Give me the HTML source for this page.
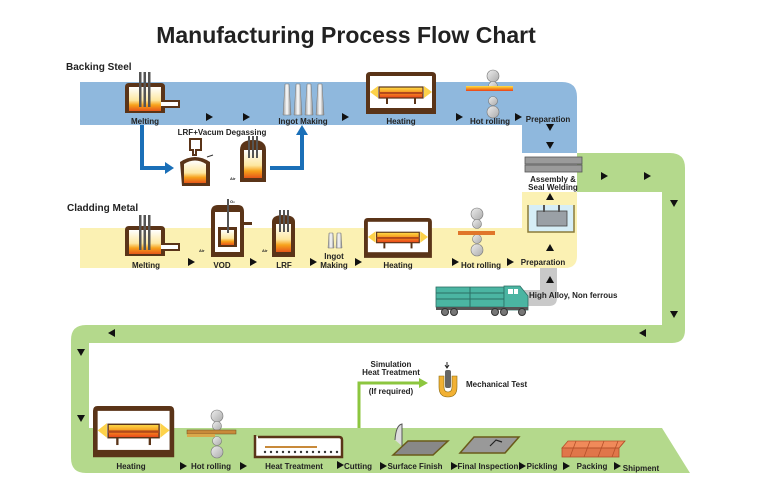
<!DOCTYPE html>
<html><head><meta charset="utf-8"><style>
html,body{margin:0;padding:0;background:#fff;}
svg{display:block;}
text{font-family:"Liberation Sans",sans-serif;font-weight:bold;fill:#222;}
.l{font-size:8px;}
</style></head><body>
<svg width="768" height="491" viewBox="0 0 768 491" xmlns="http://www.w3.org/2000/svg">
<defs>
<linearGradient id="melt" x1="0" y1="0" x2="0" y2="1"><stop offset="0" stop-color="#fff"/><stop offset="0.55" stop-color="#fde7a0"/><stop offset="0.75" stop-color="#f7a21b"/><stop offset="1" stop-color="#e5571a"/></linearGradient>
<linearGradient id="hot" x1="0" y1="0" x2="0" y2="1"><stop offset="0" stop-color="#ffe14a"/><stop offset="0.5" stop-color="#f7941d"/><stop offset="1" stop-color="#e8401c"/></linearGradient>
<linearGradient id="ing" x1="0" y1="0" x2="1" y2="0"><stop offset="0" stop-color="#999"/><stop offset="0.5" stop-color="#fff"/><stop offset="1" stop-color="#888"/></linearGradient>
<linearGradient id="roll" x1="0" y1="0" x2="1" y2="1"><stop offset="0" stop-color="#eee"/><stop offset="1" stop-color="#aaa"/></linearGradient>
<g id="mf">
 <path d="M0,4 Q0,0 4,0 H36 Q40,0 40,4 V17 H55 V25 H40 V30 H0 Z" fill="#5a3418"/>
 <path d="M4,4 H36 V28 H4 Z" fill="url(#melt)"/>
 <rect x="36" y="19" width="17" height="4" fill="#fff"/>
 <rect x="14" y="-11" width="2.5" height="35" fill="#555"/><rect x="18.5" y="-11" width="2.5" height="35" fill="#555"/><rect x="23" y="-11" width="2.5" height="35" fill="#555"/>
</g>
<g id="hf">
 <path d="M0,4 Q0,0 4,0 H66 Q70,0 70,4 V42 H0 Z" fill="#5a3418"/>
 <rect x="4" y="4" width="62" height="32" fill="#fff"/>
 <path d="M4,20 L12,14 V26 Z M66,20 L58,14 V26 Z" fill="#fdd24a"/>
 <rect x="13" y="15" width="44" height="11" fill="url(#hot)" stroke="#5a3418" stroke-width="1.2"/>
 <rect x="13" y="20" width="44" height="2" fill="#b34a1a"/>
 <rect x="20" y="26" width="2" height="6" fill="#5a3418"/><rect x="48" y="26" width="2" height="6" fill="#5a3418"/>
</g>
<g id="rl">
 <circle cx="0" cy="0" r="6" fill="url(#roll)" stroke="#777" stroke-width=".6"/>
 <circle cx="0" cy="10" r="4.5" fill="url(#roll)" stroke="#777" stroke-width=".6"/>
 <circle cx="0" cy="25" r="4.5" fill="url(#roll)" stroke="#777" stroke-width=".6"/>
 <circle cx="0" cy="36" r="6" fill="url(#roll)" stroke="#777" stroke-width=".6"/>
</g>
<path id="ar" d="M0,-4 L7,0 L0,4 Z" fill="#111"/>
<path id="ad" d="M-4,0 L4,0 L0,7 Z" fill="#111"/>
<path id="au" d="M-4,7 L4,7 L0,0 Z" fill="#111"/>
<path id="al" d="M7,-4 L0,0 L7,4 Z" fill="#111"/>
</defs>

<text x="346" y="43" text-anchor="middle" style="font-size:23px;font-family:'Liberation Sans',sans-serif">Manufacturing Process Flow Chart</text>

<!-- bands -->
<path d="M80,82 H562 Q577,82 577,97 V153 H522 V125 H80 Z" fill="#8fb8dd"/>
<path d="M522,153 H670 Q685,153 685,168 V330 Q685,343 672,343 H89 V428 H662 L690,473 H86 Q71,473 71,458 V340 Q71,325 86,325 H662 V192 H577 V153 Z" fill="#b4d98c"/>
<path d="M80,228 H522 V192 H577 V256 Q577,268 565,268 H80 Z" fill="#fbf1b3"/>
<path d="M540,268 H557 V298 Q557,306 549,306 H520 V290 H540 Z" fill="#c9c9c9"/>

<!-- labels rows -->
<text x="66" y="70" style="font-size:10px">Backing  Steel</text>
<text x="67" y="211" style="font-size:10px">Cladding  Metal</text>

<!-- backing row -->
<use href="#mf" x="125" y="83"/>
<text class="l" x="145" y="124" text-anchor="middle">Melting</text>
<use href="#ar" x="206" y="117"/><use href="#ar" x="243" y="117"/>
<g fill="url(#ing)" stroke="#777" stroke-width=".5">
<path d="M283,115 L285,84 H289 L291,115 Z"/><path d="M294,115 L296,84 H300 L302,115 Z"/><path d="M305,115 L307,84 H311 L313,115 Z"/><path d="M316,115 L318,84 H322 L324,115 Z"/></g>
<text class="l" x="303" y="124" text-anchor="middle">Ingot Making</text>
<use href="#ar" x="342" y="117"/>
<use href="#hf" x="366" y="72"/>
<text class="l" x="401" y="124" text-anchor="middle">Heating</text>
<use href="#ar" x="456" y="117"/>
<use href="#rl" x="493" y="76"/>
<rect x="466" y="86" width="47" height="5" fill="url(#hot)"/>
<text class="l" x="490" y="124" text-anchor="middle">Hot rolling</text>
<use href="#ar" x="515" y="117"/>
<text class="l" x="548" y="122" text-anchor="middle">Preparation</text>
<use href="#ad" x="550" y="124"/><use href="#ad" x="550" y="142"/>

<!-- blue branch -->
<path d="M142,125 V168 H166" fill="none" stroke="#1a6fb8" stroke-width="4"/>
<path d="M165,162 L174,168 L165,174 Z" fill="#1a6fb8"/>
<text class="l" x="222" y="135" text-anchor="middle">LRF+Vacum Degassing</text>
<g>
 <path d="M190,139 H201 V150 H196 V155 H193 V150 H190 Z" fill="none" stroke="#5a3418" stroke-width="2"/>
 <path d="M180,162 Q195,152 210,162 V186 H182 Z" fill="#5a3418"/>
 <path d="M184,164 Q195,157 206,164 V183 H184 Z" fill="url(#melt)"/>
 <path d="M207,157 L213,155" stroke="#333" stroke-width="1"/>
</g>
<g>
 <path d="M240,150 Q240,140 253,140 Q266,140 266,150 V182 H240 Z" fill="#5a3418"/>
 <rect x="244" y="150" width="18" height="28" fill="url(#melt)"/>
 <rect x="248" y="136" width="2" height="22" fill="#555"/><rect x="252" y="136" width="2" height="22" fill="#555"/><rect x="256" y="136" width="2" height="22" fill="#555"/>
 <text x="230" y="180" style="font-size:4px">Air</text>
</g>
<path d="M270,168 H302 V134" fill="none" stroke="#1a6fb8" stroke-width="4"/>
<path d="M296,135 L302,125 L308,135 Z" fill="#1a6fb8"/>

<!-- assembly -->
<rect x="525" y="157" width="57" height="7" fill="#9a9a9a" stroke="#555" stroke-width=".8"/>
<rect x="525" y="165" width="57" height="7" fill="#9a9a9a" stroke="#555" stroke-width=".8"/>
<text class="l" x="553" y="182" text-anchor="middle">Assembly &amp;</text>
<text class="l" x="553" y="190" text-anchor="middle">Seal Welding</text>
<use href="#au" x="550" y="193"/>
<path d="M528,205 V232 H574 V205" fill="#d6eef7" stroke="#8a7a3a" stroke-width="1.5"/>
<rect x="537" y="211" width="30" height="15" fill="#9aa0a6" stroke="#444" stroke-width=".8"/>
<rect x="543" y="205" width="2" height="7" fill="#555"/><rect x="558" y="205" width="2" height="7" fill="#555"/>
<use href="#au" x="550" y="244"/>
<text class="l" x="543" y="265" text-anchor="middle">Preparation</text>
<use href="#ar" x="601" y="176"/><use href="#ar" x="644" y="176"/>
<use href="#ad" x="674" y="200"/><use href="#ad" x="674" y="311"/>

<!-- cladding row -->
<use href="#mf" x="125" y="226"/>
<text class="l" x="146" y="268" text-anchor="middle">Melting</text>
<use href="#ar" x="188" y="262"/>
<g>
 <path d="M211,212 Q211,205 218,205 H238 Q244,205 244,212 V257 H211 Z" fill="#5a3418"/>
 <rect x="215" y="212" width="25" height="40" fill="#fff"/>
 <rect x="218" y="227" width="19" height="20" fill="#5a3418"/>
 <rect x="221" y="230" width="13" height="15" fill="url(#melt)"/>
 <rect x="227" y="199" width="2" height="34" fill="#555"/>
 <rect x="244" y="222" width="8" height="3" fill="#5a3418"/>
 <text x="230" y="203" style="font-size:4px">O₂</text>
 <text x="199" y="252" style="font-size:4px">Air</text>
</g>
<text class="l" x="222" y="268" text-anchor="middle">VOD</text>
<use href="#ar" x="250" y="262"/>
<g>
 <path d="M272,222 Q272,215 283,215 Q295,215 295,222 V257 H272 Z" fill="#5a3418"/>
 <rect x="276" y="224" width="15" height="28" fill="url(#melt)"/>
 <rect x="279" y="210" width="2" height="22" fill="#555"/><rect x="283" y="210" width="2" height="22" fill="#555"/><rect x="287" y="210" width="2" height="22" fill="#555"/>
 <text x="262" y="252" style="font-size:4px">Air</text>
</g>
<text class="l" x="284" y="268" text-anchor="middle">LRF</text>
<use href="#ar" x="310" y="262"/>
<g fill="url(#ing)" stroke="#777" stroke-width=".5"><path d="M328,248 L329,233 H333 L334,248 Z"/><path d="M336,248 L337,233 H341 L342,248 Z"/></g>
<text class="l" x="334" y="259" text-anchor="middle">Ingot</text>
<text class="l" x="334" y="268" text-anchor="middle">Making</text>
<use href="#ar" x="355" y="262"/>
<use href="#hf" x="364" y="218" transform="translate(364 218) scale(0.97 0.95) translate(-364 -218)"/>
<text class="l" x="398" y="268" text-anchor="middle">Heating</text>
<use href="#ar" x="452" y="262"/>
<use href="#rl" x="477" y="214"/>
<rect x="458" y="231" width="37" height="4" fill="#e0762a"/>
<text class="l" x="481" y="268" text-anchor="middle">Hot rolling</text>
<use href="#ar" x="507" y="262"/>

<!-- truck -->
<use href="#au" x="550" y="276"/>
<g>
 <rect x="436" y="287" width="68" height="20" fill="#4bb5a2" stroke="#2b6f64" stroke-width=".8"/>
 <line x1="436" y1="293" x2="504" y2="293" stroke="#2b6f64"/><line x1="436" y1="299" x2="504" y2="299" stroke="#2b6f64"/>
 <line x1="470" y1="287" x2="470" y2="307" stroke="#2b6f64"/>
 <path d="M504,286 H520 L528,296 V310 H504 Z" fill="#4bb5a2" stroke="#2b6f64" stroke-width=".8"/>
 <rect x="508" y="289" width="5" height="5" fill="#fff"/><rect x="514" y="289" width="4" height="5" fill="#fff"/>
 <rect x="436" y="307" width="92" height="3" fill="#555"/>
 <g fill="#777" stroke="#333" stroke-width="1"><circle cx="445" cy="312" r="3.5"/><circle cx="454" cy="312" r="3.5"/><circle cx="495" cy="312" r="3.5"/><circle cx="504" cy="312" r="3.5"/><circle cx="522" cy="312" r="3.5"/></g>
</g>
<text class="l" x="529" y="298">High Alloy, Non ferrous</text>

<!-- lower loop arrows -->
<use href="#al" x="108" y="333"/><use href="#al" x="639" y="333"/>
<use href="#ad" x="81" y="349"/><use href="#ad" x="81" y="415"/>

<!-- bottom row -->
<use href="#hf" x="93" y="406" transform="translate(93 406) scale(1.16 1.22) translate(-93 -406)"/>
<text class="l" x="131" y="469" text-anchor="middle">Heating</text>
<use href="#ar" x="180" y="466"/>
<use href="#rl" x="217" y="416"/>
<rect x="187" y="430" width="49" height="4" fill="#c88a3a" stroke="#6a4a1a" stroke-width=".5"/>
<rect x="187" y="434" width="28" height="3" fill="#d9a84a"/>
<text class="l" x="211" y="469" text-anchor="middle">Hot rolling</text>
<use href="#ar" x="240" y="466"/>
<path d="M255,435 V457 H342 V440 Q342,437 339,437 H258" fill="#fff" stroke="#5a3418" stroke-width="2.5"/>
<rect x="265" y="446" width="52" height="2" fill="#c88a3a"/>
<g fill="#333"><circle cx="265" cy="452" r="1.2"/><circle cx="271" cy="452" r="1.2"/><circle cx="277" cy="452" r="1.2"/><circle cx="283" cy="452" r="1.2"/><circle cx="289" cy="452" r="1.2"/><circle cx="295" cy="452" r="1.2"/><circle cx="301" cy="452" r="1.2"/><circle cx="307" cy="452" r="1.2"/><circle cx="313" cy="452" r="1.2"/><circle cx="319" cy="452" r="1.2"/><circle cx="325" cy="452" r="1.2"/><circle cx="331" cy="452" r="1.2"/><circle cx="337" cy="452" r="1.2"/></g>
<text class="l" x="294" y="469" text-anchor="middle">Heat Treatment</text>
<use href="#ar" x="337" y="465"/>
<text class="l" x="358" y="469" text-anchor="middle">Cutting</text>
<path d="M359,428 V383 H420" fill="none" stroke="#8cc63f" stroke-width="3"/>
<path d="M419,378 L428,383 L419,388 Z" fill="#8cc63f"/>
<text class="l" x="391" y="367" text-anchor="middle">Simulation</text>
<text class="l" x="391" y="375" text-anchor="middle">Heat Treatment</text>
<text class="l" x="391" y="394" text-anchor="middle">(If required)</text>
<path d="M439,376 V387 Q439,397 448,397 Q457,397 457,387 V376 H452 V387 Q452,392 448,392 Q444,392 444,387 V376 Z" fill="#f2b134" stroke="#8a6a10" stroke-width=".6"/>
<rect x="445" y="370" width="6" height="18" rx="2" fill="#666"/>
<path d="M447,362 V367 M445,365 L447,368 L449,365" stroke="#222" fill="none" stroke-width="1"/>
<text class="l" x="466" y="387">Mechanical Test</text>
<use href="#ar" x="380" y="466"/>
<path d="M393,455 L408,441 H448 L433,455 Z" fill="#888" stroke="#6a5a1a" stroke-width="1.5"/>
<path d="M395,440 Q396,425 402,424 V446" fill="#ddd" stroke="#555" stroke-width="1"/>
<text class="l" x="415" y="469" text-anchor="middle">Surface Finish</text>
<use href="#ar" x="451" y="466"/>
<path d="M460,453 L474,437 H519 L505,453 Z" fill="#999" stroke="#6a5a1a" stroke-width="1.5"/>
<path d="M490,446 L496,440 L502,442" stroke="#222" fill="none" stroke-width="1.2"/>
<text class="l" x="488" y="469" text-anchor="middle">Final Inspection</text>
<use href="#ar" x="519" y="466"/>
<text class="l" x="542" y="469" text-anchor="middle">Pickling</text>
<use href="#ar" x="563" y="466"/>
<g stroke="#b4502a" stroke-width=".8" fill="#f08a5a">
<path d="M562,448 L568,441 H625 L619,448 Z"/>
<rect x="562" y="448" width="57" height="9" fill="#e0764a"/>
<path d="M576,441 L570,457 M590,441 L584,457 M604,441 L598,457 M618,441 L612,457" fill="none"/>
<path d="M565,448 H619 L625,441" fill="none"/>
</g>
<text class="l" x="592" y="469" text-anchor="middle">Packing</text>
<use href="#ar" x="614" y="466"/>
<text class="l" x="641" y="471" text-anchor="middle">Shipment</text>
</svg>
</body></html>
